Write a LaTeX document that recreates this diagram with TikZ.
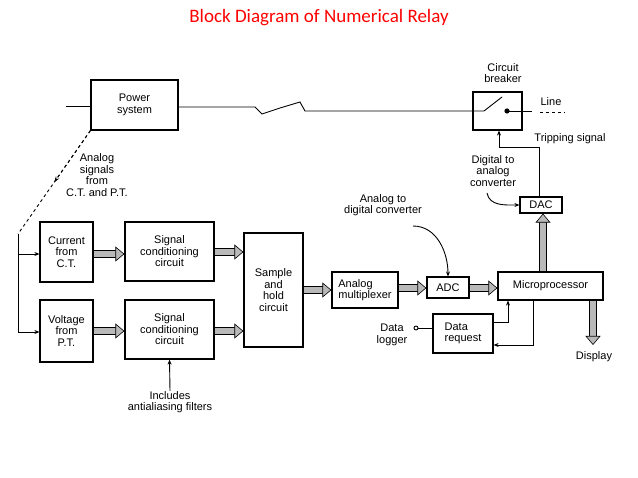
\documentclass[tikz,border=0pt]{standalone}
\usepackage{fontspec}
\setmainfont{Liberation Sans}
\newfontfamily\titlefont{Carlito}
\usetikzlibrary{arrows.meta,calc}
\begin{document}
\begin{tikzpicture}[x=1pt,y=-1pt,
  box/.style={draw,line width=1.2pt,align=center,inner sep=0pt,font=\fontsize{11}{11.5}\selectfont},
  lbl/.style={align=center,font=\fontsize{11}{11.5}\selectfont,inner sep=0pt},
  fat/.style={draw=black,line width=0.6pt,double=gray!55,double distance=6pt,-{Triangle[width=15pt,length=9pt,fill=gray!55,line width=0.6pt]}},
  thin/.style={line width=0.9pt},
  arr/.style={thin,-{Stealth[length=5pt,width=4pt]}}]
\useasboundingbox (0,0) rectangle (638,478);
\node[text=red,font=\titlefont\fontsize{19}{21}\selectfont] (title) at (319,18) {Block Diagram of Numerical Relay};
% boxes
\node[box,minimum width=87pt,minimum height=50pt] (ps) at (134.5,105) {Power\\system};
\node[box,minimum width=49pt,minimum height=38pt] (cb) at (497.5,111) {};
\node[box,minimum width=53pt,minimum height=60pt] (ct) at (66.5,252) {Current\\from\\C.T.};
\node[box,minimum width=89pt,minimum height=59pt] (sc1) at (169.5,251.5) {Signal\\conditioning\\circuit};
\node[box,minimum width=53pt,minimum height=62pt] (pt) at (66.5,331) {Voltage\\from\\P.T.};
\node[box,minimum width=89pt,minimum height=59pt] (sc2) at (169.5,329.5) {Signal\\conditioning\\circuit};
\node[box,minimum width=59pt,minimum height=114pt] (sh) at (273.5,290) {Sample\\and\\hold\\circuit};
\node[box,minimum width=66pt,minimum height=36pt,align=left] (mux) at (365,290) {Analog\\multiplexer};
\node[box,minimum width=42pt,minimum height=21pt] (adc) at (448,287.5) {ADC};
\node[box,minimum width=105pt,minimum height=28pt] (mp) at (550.5,286) {Microprocessor};
\node[box,minimum width=42pt,minimum height=16pt] (dac) at (541,205) {DAC};
\node[box,minimum width=60pt,minimum height=39pt,align=left] (dr) at (463,333.5) {Data\\request};
% power line
\draw[thin] (66,106) -- (ps.west |- 0,106);
\coordinate (z1) at (262,114);
\coordinate (z2) at (300,102);
\draw[thin] (ps.east |- 0,107) -- (255,107) -- (z1) -- (280,108) -- (z2) -- (305,111) -- (cb.west |- 0,111);
% breaker internals
\coordinate (s1) at (484,111);
\coordinate (s2) at (502,97);
\coordinate (dot) at (507,111);
\draw[thin] (cb.west |- 0,111) -- (s1) -- (s2);
\fill (dot) circle (2.6pt);
\draw[thin] (dot) -- (532,111);
\node[lbl] (cbl) at (503,73) {Circuit\\breaker};
\node[lbl] (line) at (551,102) {Line};
\draw[thin,dashed] (540,112) -- (565,112);
% tripping
\coordinate (t1) at (539,147);
\draw[arr] (dac.north -| 539,0) -- (t1) -- (499,147) -- (cb.south -| 499,0);
\node[lbl] (trip) at (570,139) {Tripping signal};
\node[lbl] (dacl) at (493,171) {Digital to\\analog\\converter};
\draw[arr] (487,193) to[out=-80,in=180] (dac.west);
% left
\coordinate (bus1) at (18,234);
\coordinate (bus2) at (18,332);
\draw[thin,dashed] (ps.south west) -- (bus1);
\draw[thin,dashed,-{Stealth[length=6pt,width=4pt]}] (ps.south west) -- ($(ps.south west)!0.5!(bus1)$);
\draw[thin] (bus1) -- (bus2);
\draw[arr] (18,254) -- (ct.west |- 0,254);
\draw[arr] (bus2) -- (pt.west |- 0,332);
\node[lbl] (asig) at (97,175) {Analog\\signals\\from\\C.T. and P.T.};
% fat arrows
\draw[fat] (ct.east |- 0,254) -- (sc1.west |- 0,254);
\draw[fat] (pt.east |- 0,331) -- (sc2.west |- 0,331);
\draw[fat] (sc1.east |- 0,252) -- (sh.west |- 0,252);
\draw[fat] (sc2.east |- 0,331) -- (sh.west |- 0,331);
\draw[fat] (sh.east |- 0,290) -- (mux.west |- 0,290);
\draw[fat] (mux.east |- 0,288) -- (adc.west |- 0,288);
\draw[fat] (adc.east |- 0,288) -- (mp.west |- 0,288);
\draw[fat] (mp.north -| 543,0) -- (dac.south -| 543,0);
\draw[fat] (mp.south -| 593,0) -- (593,345);
\node[lbl] (disp) at (594,357) {Display};
% antialiasing
\node[lbl] (anti) at (170,402) {Includes\\antialiasing filters};
\draw[arr] (anti.north) -- (sc2.south);
% ADC label
\node[lbl] (adcl) at (383,205) {Analog to\\digital converter};
\draw[arr] (413,226) to[out=0,in=90] (adc.north);
% data request
\coordinate (dl) at (416,328);
\draw[thin] (dl) circle (2pt);
\draw[thin] ($(dl)+(2,0)$) -- (dr.west |- dl);
\node[lbl] (dlog) at (392,335) {Data\\logger};
\draw[arr] (dr.east |- 0,322) -- (508,322) -- (mp.south -| 508,0);
\draw[arr] (mp.south -| 533,0) -- (533,345) -- (dr.east |- 0,345);
\end{tikzpicture}
\end{document}
